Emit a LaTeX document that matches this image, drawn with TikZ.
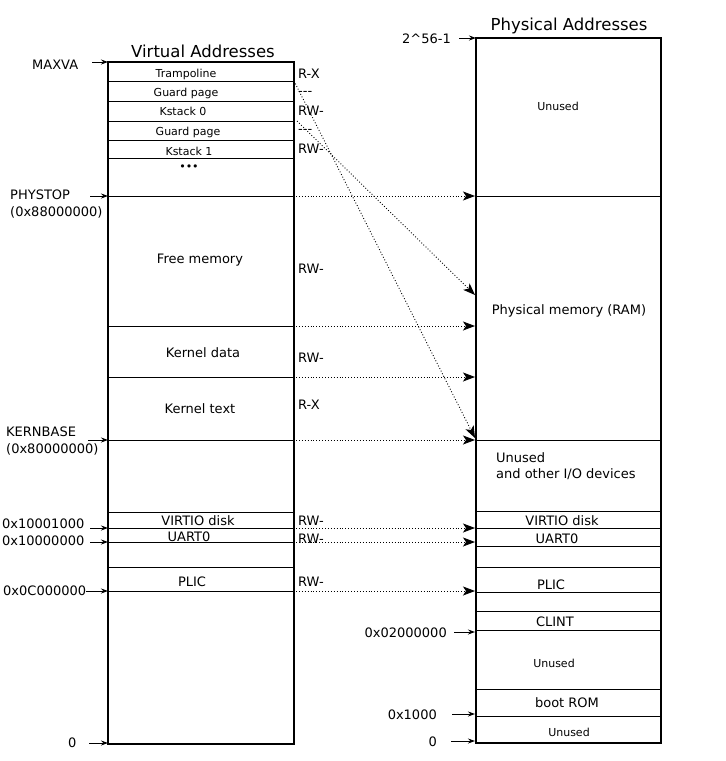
\documentclass[tikz,border=0pt]{standalone}
\usepackage{fontspec}
\setmainfont{DejaVu Sans}
\usetikzlibrary{arrows.meta}

\begin{document}
\begin{tikzpicture}
      [x=1pt,y=-1pt
      ,vbox/.style={draw=black,line width=1.2pt}
      ,pbox/.style={draw=black,line width=2.2pt}
      ,sep/.style={color=black,line width=.9pt}
      ,ttl/.style={font=\fontsize{16.5}{19}\selectfont,inner sep=0pt}
      ,lbl/.style={font=\fontsize{13}{16.5}\selectfont,inner sep=0pt}
      ,sml/.style={font=\fontsize{11}{13}\selectfont,inner sep=0pt}
      ,ptr/.style={line width=.9pt,-{Stealth[length=7pt,width=5pt]}}
      ,map/.style={dotted,line width=.9pt,-{Stealth[length=12pt,width=9pt,inset=3pt]}}
      ]
        \useasboundingbox (0,0) rectangle (726,761);

        \node[ttl] (vtitle) at (203,51) {Virtual Addresses};
        \node[ttl] (ptitle) at (569,26) {Physical Addresses};

        \draw[vbox] (108,62) rectangle (294,744);
        \foreach \y in {81,101,121,140,158,196,326,377,440,512,528,542,567,591}{
            \draw[sep] (108,\y) -- (294,\y);
        }

        \draw[pbox] (476,38) rectangle (661,743);
        \foreach \y in {196,440,511,528,546,567,592,611,630,689,716}{
            \draw[sep] (476,\y) -- (661,\y);
        }

        \node[sml] (tramp) at (186,74) {Trampoline};
        \node[sml] (guard0) at (186,93) {Guard page};
        \node[sml] (kstack0) at (183,111) {Kstack 0};
        \node[sml] (guard1) at (188,132) {Guard page};
        \node[sml] (kstack1) at (189,151) {Kstack 1};
        \node[sml] (more) at (189,168) {•••};
        \node[lbl] (free) at (200,260) {Free memory};
        \node[lbl] (kdata) at (203,353) {Kernel data};
        \node[lbl] (ktext) at (200,409) {Kernel text};
        \node[lbl] (vvirtio) at (198,521) {VIRTIO disk};
        \node[lbl] (vuart) at (189,537) {UART0};
        \node[lbl] (vplic) at (192,582) {PLIC};

        \foreach \nm/\y/\t in {ptramp/74/R-X, pguard0/93/-{}-{}-, pkstack0/111/RW-, pguard1/131/-{}-{}-, pkstack1/149/RW-
                              ,pfree/269/RW-, pkdata/358/RW-, pktext/405/R-X, pvirtio/521/RW-, puart/539/RW-, pplic/582/RW-}{
            \node[lbl,anchor=west] (\nm) at (298,\y) {\t};
        }

        \node[sml] (unused2) at (558,106) {Unused};
        \node[lbl] (ram) at (569,311) {Physical memory (RAM)};
        \node[lbl,anchor=west,align=left] (unused1) at (496,466) {Unused\\and other I/O devices};
        \node[lbl] (virtio) at (562,521) {VIRTIO disk};
        \node[lbl] (uart) at (557,539) {UART0};
        \node[lbl] (plic) at (551,585) {PLIC};
        \node[lbl] (clint) at (555,622) {CLINT};
        \node[sml] (unused0) at (554,663) {Unused};
        \node[lbl] (bootrom) at (567,703) {boot ROM};
        \node[sml] (unusedz) at (569,732) {Unused};

        \node[lbl,anchor=west] (maxva) at (32,65) {MAXVA};
        \node[lbl,anchor=west,align=left] (phystop) at (10,204) {PHYSTOP\\(0x88000000)};
        \node[lbl,anchor=west,align=left] (kernbase) at (6,441) {KERNBASE\\(0x80000000)};
        \node[lbl,anchor=west] (avirtio) at (2,524) {0x10001000};
        \node[lbl,anchor=west] (auart) at (2,541) {0x10000000};
        \node[lbl,anchor=west] (aplic) at (3,591) {0x0C000000};
        \node[lbl,anchor=west] (vzero) at (68,743) {0};

        \node[lbl,anchor=east] (top) at (451,39) {2\textasciicircum 56-1};
        \node[lbl,anchor=east] (aclint) at (447,633) {0x02000000};
        \node[lbl,anchor=east] (arom) at (437,715) {0x1000};
        \node[lbl,anchor=east] (pzero) at (437,742) {0};

        \foreach \nm/\xa/\xb/\y in {maxva/92/108/62, phystop/90/108/196, kernbase/88/108/440
                                   ,avirtio/90/108/528, auart/90/108/542, aplic/86/108/591, vzero/89/108/743
                                   ,top/459/476/38, aclint/454/475/632, arom/452/475/714, pzero/451/475/741}{
            \coordinate (\nm-s) at (\xa,\y);
            \coordinate (\nm-e) at (\xb,\y);
            \draw[ptr] (\nm-s) -- (\nm-e);
        }

        \foreach \y in {196,326,377,440,528,542,591}{
            \coordinate (v\y) at (296,\y);
            \coordinate (p\y) at (475,\y);
            \draw[map] (v\y) -- (p\y);
        }

        \coordinate (vtramp) at (294,81);
        \coordinate (pktext) at (475,438);
        \coordinate (vkstack) at (297,121);
        \coordinate (pkstack) at (475,295);
        \draw[map] (vtramp) -- (pktext);
        \draw[map] (vkstack) -- (pkstack);

      \end{tikzpicture}
\end{document}
